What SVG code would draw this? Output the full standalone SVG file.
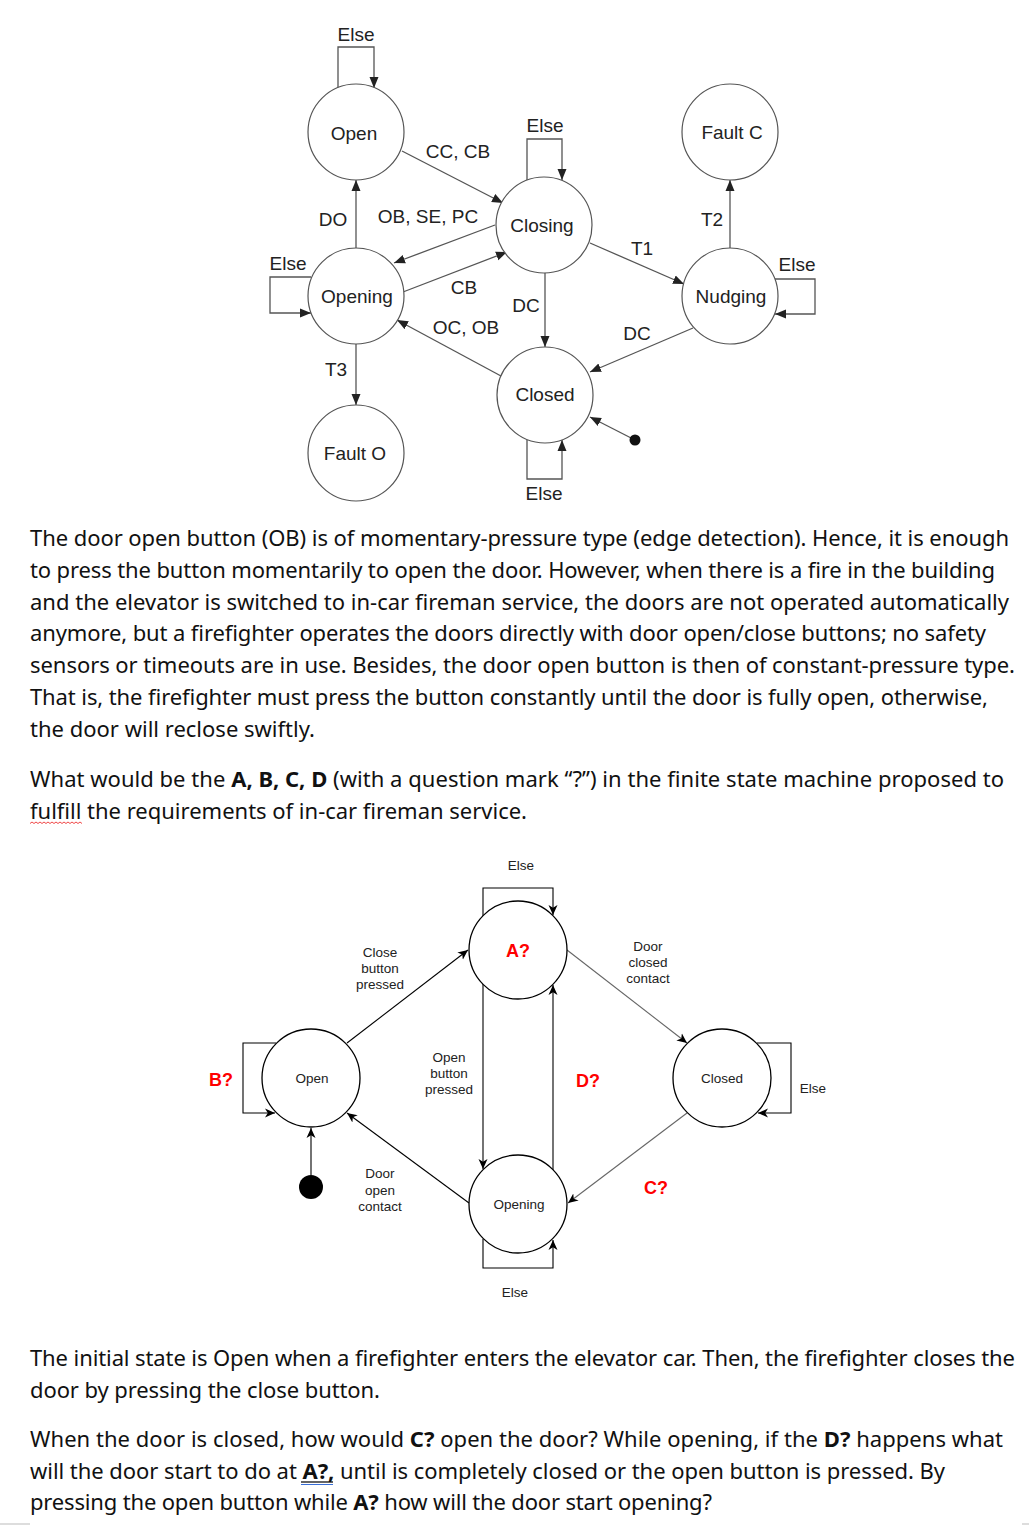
<svg xmlns="http://www.w3.org/2000/svg" width="1029" height="1525" viewBox="0 0 1029 1525">
<defs>
<marker id="tri" markerUnits="userSpaceOnUse" markerWidth="12" markerHeight="10" refX="11" refY="5" orient="auto">
<path d="M0,0.5 L11,5 L0,9.5 Z" fill="#222"/>
</marker>
<marker id="cls" markerUnits="userSpaceOnUse" markerWidth="11" markerHeight="11" refX="10" refY="5.5" orient="auto">
<path d="M0,1 L10,5.5 L0,10 L2.8,5.5 Z" fill="#000"/>
</marker>
</defs>
<style>
.tn{fill:#fff;stroke:#555;stroke-width:1.2}
.te{fill:none;stroke:#555;stroke-width:1.3;marker-end:url(#tri)}
.tl{font-family:"Liberation Sans",Arial,sans-serif;font-size:19px;fill:#222;text-anchor:middle}
.bn{fill:#fff;stroke:#000;stroke-width:1.3}
.be{fill:none;stroke:#000;stroke-width:1.1;marker-end:url(#cls)}
.beg{fill:none;stroke:#666;stroke-width:1.1;marker-end:url(#cls)}
.bl{font-family:"Liberation Sans",Arial,sans-serif;font-size:13.5px;fill:#222;text-anchor:middle}
.red{font-family:"Liberation Sans",Arial,sans-serif;font-size:18px;font-weight:bold;fill:#f00;text-anchor:middle}
.p{font-family:"Noto Sans","Open Sans",sans-serif;font-size:22px;fill:#111}
.b{font-weight:bold}
</style>
<rect width="1029" height="1525" fill="#fff"/>

<!-- TOP DIAGRAM -->
<g id="top-connectors">
<path class="te" d="M338,88 V47 H374 V88"/>
<path class="te" d="M402,151 L503,203"/>
<path class="te" d="M495,225 L394,263"/>
<path class="te" d="M403,292 L507,252"/>
<path class="te" d="M501,376 L397,320"/>
<path class="te" d="M356,248 V180"/>
<path class="te" d="M311,277 H270 V313 H311"/>
<path class="te" d="M356,344 V405"/>
<path class="te" d="M527,180 V139 H562 V180"/>
<path class="te" d="M590,243 L684,284"/>
<path class="te" d="M730,248 V180"/>
<path class="te" d="M775,279 H815 V314 H775"/>
<path class="te" d="M545,273 V347"/>
<path class="te" d="M693,328 L590,372"/>
<path class="te" d="M527,440 V479 H562 V440"/>
<path class="te" d="M635,440 L590,417"/>
<circle cx="635" cy="440" r="5.5" fill="#111"/>
<text class="tl" x="356" y="41">Else</text>
<text class="tl" x="458" y="158">CC, CB</text>
<text class="tl" x="428" y="223">OB, SE, PC</text>
<text class="tl" x="464" y="294">CB</text>
<text class="tl" x="466" y="334">OC, OB</text>
<text class="tl" x="333" y="226">DO</text>
<text class="tl" x="288" y="270">Else</text>
<text class="tl" x="336" y="376">T3</text>
<text class="tl" x="545" y="132">Else</text>
<text class="tl" x="642" y="255">T1</text>
<text class="tl" x="712" y="226">T2</text>
<text class="tl" x="797" y="271">Else</text>
<text class="tl" x="526" y="312">DC</text>
<text class="tl" x="637" y="340">DC</text>
<text class="tl" x="544" y="500">Else</text>
</g>
<g id="t-open"><circle class="tn" cx="356" cy="132" r="48"/><text class="tl" x="354" y="140">Open</text></g>
<g id="t-closing"><circle class="tn" cx="544" cy="225" r="48"/><text class="tl" x="542" y="232">Closing</text></g>
<g id="t-opening"><circle class="tn" cx="356" cy="296" r="48"/><text class="tl" x="357" y="303">Opening</text></g>
<g id="t-faulto"><circle class="tn" cx="356" cy="453" r="48"/><text class="tl" x="355" y="460">Fault O</text></g>
<g id="t-closed"><circle class="tn" cx="545" cy="395" r="48"/><text class="tl" x="545" y="401">Closed</text></g>
<g id="t-faultc"><circle class="tn" cx="730" cy="132" r="48"/><text class="tl" x="732" y="139">Fault C</text></g>
<g id="t-nudging"><circle class="tn" cx="730" cy="296" r="48"/><text class="tl" x="731" y="303">Nudging</text></g>

<!-- PARAGRAPH 1 -->
<g id="para1">
<text class="p" x="30" y="546" textLength="979">The door open button (OB) is of momentary-pressure type (edge detection). Hence, it is enough</text>
<text class="p" x="30" y="578" textLength="965">to press the button momentarily to open the door. However, when there is a fire in the building</text>
<text class="p" x="30" y="610" textLength="979">and the elevator is switched to in-car fireman service, the doors are not operated automatically</text>
<text class="p" x="30" y="641" textLength="956">anymore, but a firefighter operates the doors directly with door open/close buttons; no safety</text>
<text class="p" x="30" y="673" textLength="985">sensors or timeouts are in use. Besides, the door open button is then of constant-pressure type.</text>
<text class="p" x="30" y="705" textLength="958">That is, the firefighter must press the button constantly until the door is fully open, otherwise,</text>
<text class="p" x="30" y="737" textLength="285">the door will reclose swiftly.</text>
<text class="p" x="30" y="787" textLength="974">What would be the <tspan class="b">A, B, C, D</tspan> (with a question mark “?”) in the finite state machine proposed to</text>
<text class="p" x="30" y="819" textLength="497">fulfill the requirements of in-car fireman service.</text>
<path d="M30,823.5 l2,-1.5 l2,1.5 l2,-1.5 l2,1.5 l2,-1.5 l2,1.5 l2,-1.5 l2,1.5 l2,-1.5 l2,1.5 l2,-1.5 l2,1.5 l2,-1.5 l2,1.5 l2,-1.5 l2,1.5 l2,-1.5 l2,1.5 l2,-1.5 l2,1.5 l2,-1.5 l2,1.5 l2,-1.5 l2,1.5 l2,-1.5 l2,1.5" fill="none" stroke="#e33" stroke-width="0.9"/>
</g>

<!-- BOTTOM DIAGRAM -->
<g id="bottom-connectors">
<path class="be" d="M483,916 V888 H553 V915"/>
<path class="be" d="M347,1043 L468,950"/>
<path class="be" d="M483,984 V1169"/>
<path class="be" d="M553,1170 V985"/>
<path class="beg" d="M567,950 L687,1043"/>
<path class="be" d="M757,1043 H791 V1113 H758"/>
<path class="beg" d="M687,1113 L568,1203"/>
<path class="be" d="M469,1203 L347,1113"/>
<path class="be" d="M276,1043 H243 V1113 H275"/>
<path class="be" d="M483,1239 V1268 H553 V1240"/>
<path class="be" d="M311,1175 V1128"/>
<circle cx="311" cy="1187" r="12" fill="#000"/>
<text class="bl" x="521" y="870">Else</text>
<text class="bl"><tspan x="380" y="957">Close</tspan><tspan x="380" y="973">button</tspan><tspan x="380" y="989">pressed</tspan></text>
<text class="bl"><tspan x="449" y="1062">Open</tspan><tspan x="449" y="1078">button</tspan><tspan x="449" y="1094">pressed</tspan></text>
<text class="bl"><tspan x="648" y="951">Door</tspan><tspan x="648" y="967">closed</tspan><tspan x="648" y="983">contact</tspan></text>
<text class="bl" x="813" y="1093">Else</text>
<text class="bl"><tspan x="380" y="1178">Door</tspan><tspan x="380" y="1195">open</tspan><tspan x="380" y="1211">contact</tspan></text>
<text class="bl" x="515" y="1297">Else</text>
<text class="red" x="221" y="1086">B?</text>
<text class="red" x="588" y="1087">D?</text>
<text class="red" x="656" y="1194">C?</text>
</g>
<g id="b-a"><circle class="bn" cx="518" cy="950" r="49"/><text class="red" x="518" y="957">A?</text></g>
<g id="b-open"><circle class="bn" cx="311" cy="1078" r="49"/><text class="bl" x="312" y="1083">Open</text></g>
<g id="b-closed"><circle class="bn" cx="722" cy="1078" r="49"/><text class="bl" x="722" y="1083">Closed</text></g>
<g id="b-opening"><circle class="bn" cx="518" cy="1204" r="49"/><text class="bl" x="519" y="1209">Opening</text></g>

<!-- PARAGRAPH 2 -->
<g id="para2">
<text class="p" x="30" y="1366" textLength="985">The initial state is Open when a firefighter enters the elevator car. Then, the firefighter closes the</text>
<text class="p" x="30" y="1398" textLength="350">door by pressing the close button.</text>
<text class="p" x="30" y="1447" textLength="973">When the door is closed, how would <tspan class="b">C?</tspan> open the door? While opening, if the <tspan class="b">D?</tspan> happens what</text>
<text class="p" x="30" y="1479" textLength="915">will the door start to do at <tspan class="b">A?,</tspan> until is completely closed or the open button is pressed. By</text>
<text class="p" x="30" y="1510" textLength="682">pressing the open button while <tspan class="b">A?</tspan> how will the door start opening?</text>
<line x1="301" y1="1482" x2="333" y2="1482" stroke="#111" stroke-width="1.3"/>
<line x1="301" y1="1484.5" x2="333" y2="1484.5" stroke="#3a6fd8" stroke-width="1"/>
</g>
<line x1="0" y1="1524" x2="30" y2="1524" stroke="#bbb" stroke-width="1"/>
<line x1="1022" y1="1524" x2="1029" y2="1524" stroke="#bbb" stroke-width="1"/>
</svg>
